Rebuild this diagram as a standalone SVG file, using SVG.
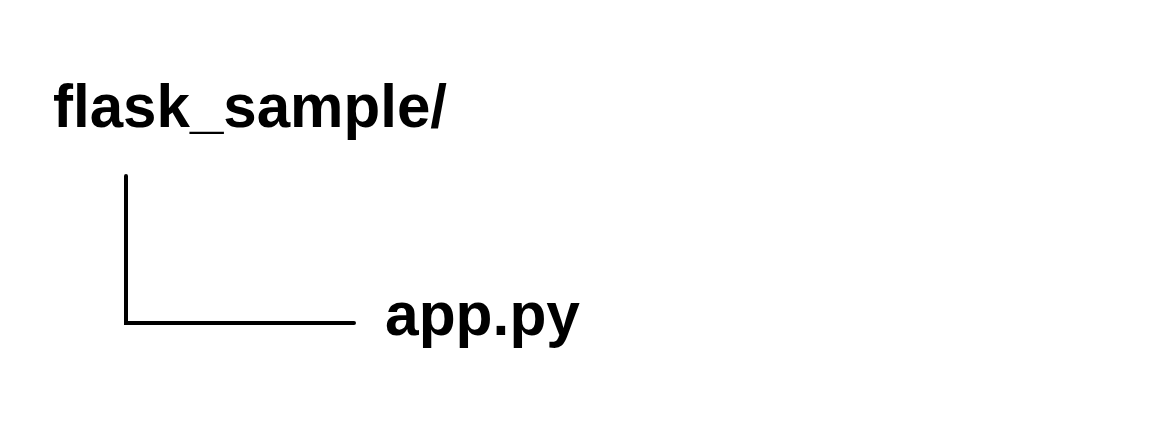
<svg xmlns="http://www.w3.org/2000/svg" width="1154" height="433" viewBox="0 0 1154 433">
<style>
.t{font-family:"Liberation Sans",Arial,sans-serif;font-weight:bold;font-size:62px;fill:#000}
.c{fill:none;stroke:#000;stroke-width:4;stroke-linecap:round;stroke-linejoin:miter}
</style>
<rect width="1154" height="433" fill="#fff"/>
<g id="connectors">
<path class="c" d="M126 176 V323 H354"/>
</g>
<g id="node-flask_sample">
<text class="t" x="53" y="127" textLength="394" lengthAdjust="spacingAndGlyphs">flask_sample/</text>
</g>
<g id="node-app_py">
<text class="t" x="385" y="335" textLength="195" lengthAdjust="spacingAndGlyphs">app.py</text>
</g>
</svg>
